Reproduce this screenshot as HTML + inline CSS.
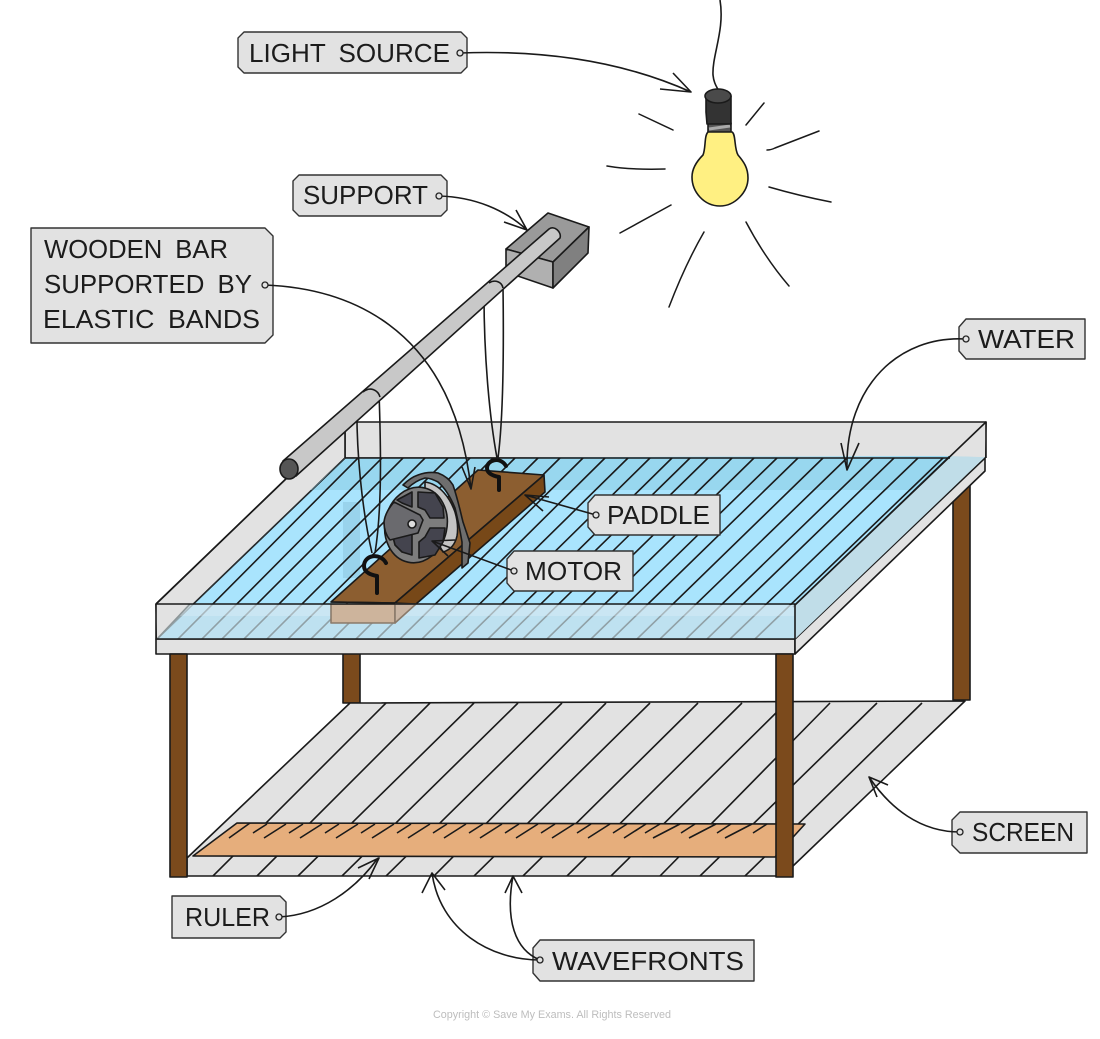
<!DOCTYPE html>
<html><head><meta charset="utf-8"><style>html,body{margin:0;padding:0;background:#fff}svg{display:block}
text{font-family:"Liberation Sans",sans-serif;font-size:26px;fill:#1c1c1c;word-spacing:6px}</style></head><body>
<svg width="1100" height="1039" viewBox="0 0 1100 1039" xmlns="http://www.w3.org/2000/svg">
<defs>
<clipPath id="sc"><polygon points="350,703 965,701 793,868 776,876 187,876 187,858"/></clipPath>
<clipPath id="wa"><polygon points="345,458 950,456 795,605 795,639 157,639"/></clipPath>
</defs>
<g stroke="#1a1a1a" stroke-width="1.6" stroke-linejoin="round">
<!-- back legs -->
<rect x="953" y="470" width="17" height="230" fill="#7b4a1c"/>
<rect x="343" y="650" width="17" height="53" fill="#7b4a1c"/>
<!-- screen -->
<polygon points="350,703 965,701 793,866 776,876 187,876 187,858" fill="#e2e2e2"/>
<g clip-path="url(#sc)" fill="none">
<path d="M386 703L213 876M430 703L257 876M474 703L298 876M518 703L342 876M562 703L382 880M606 703L430 880M650 703L470 880M698 703L523 876M742 703L567 876M786 703L611 876M830 703L660 876M877 703L700 876M922 703L745 876"/>
</g>
<!-- ruler -->
<polygon points="237,823 805,824 775,857 193,856" fill="#e6ae7c"/>
<path d="M229 838L250 823M253 833L267 824M264 838L286 824M289 833L303 824M300 838L322 824M325 833L339 824M336 838L358 824M361 833L375 824M372 838L394 824M397 833L411 824M408 838L430 824M433 833L447 824M444 838L466 824M469 833L483 824M480 838L502 824M505 833L519 824M516 838L538 824M541 833L555 824M552 838L574 824M577 833L591 824M588 838L610 824M613 833L627 824M624 838L646 824M645 833L660 824M653 838L680 824M681 833L695 824M689 838L716 824M717 833L731 824M725 838L752 824M753 833L767 824" fill="none"/>
<!-- tank back and left wall, slab -->
<polygon points="345,422 986,422 985,458 345,458" fill="#e2e2e2"/>
<polygon points="156,604 345,422 345,458 157,639" fill="#e2e2e2"/>
<polygon points="156,639 795,639 795,654 156,654" fill="#e2e2e2"/>
<polygon points="795,639 985,458 985,471 795,654" fill="#e2e2e2"/>
<!-- water -->
<polygon points="345,458 950,456 795,639 157,639" fill="#a9e4fd" stroke="none"/>
<polygon points="345,458 950,456 918,490 311,490" fill="#98d7ef" stroke="none"/>
<rect x="343" y="502" width="17" height="76" fill="#86bfd6" fill-opacity=".45" stroke="none"/>
<g clip-path="url(#wa)" fill="none">
<path d="M345 458L157 639M358 458L178 639M382 458L202 639M403 458L222 639M425 458L244 639M448 458L267 639M470 458L288 639M493 458L311 639M515 458L333 639M538 458L356 639M560 458L377 639M583 458L400 639M605 458L422 639M628 458L444 639M650 458L466 639M672 458L488 639M690 458L505 639M708 458L523 639M732 458L547 639M754 458L569 639M777 458L591 639M798 458L612 639M823 458L637 639M847 458L660 639M873 458L686 639M894 458L707 639M918 458L730 639M943 458L755 639M950 456L793 607"/>
</g>
<!-- elastic back -->
<path d="M484 295C484 360 490 420 497 458M503 287C504 360 503 420 498 458" fill="none"/>
<path d="M357 400C356 450 362 510 372 553M379 392C381 450 382 510 375 553" fill="none"/>
<!-- wood -->
<polygon points="331,602 478,470 544,475 395,603" fill="#8c5e30"/>
<polygon points="395,603 544,475 545,492 416,604" fill="#774818"/>
<!-- motor -->
<path d="M403 485C408 480 412 477 418 475C426 472 432 472 438 473C446 476 450 480 453 485C458 500 460 510 463 522L470 543L468 563L462 568L462 542C460 530 458 520 455 508C450 496 445 488 438 482C434 480 430 478 425 478C418 480 412 484 408 488Z" fill="#6e6e6e"/>
<path d="M425 482C440 484 450 498 455 512C458 522 458 530 457 536C455 545 450 550 443 552L425 520Z" fill="#c4c4c4"/>
<ellipse cx="416" cy="525" rx="31" ry="38" transform="rotate(12 416 525)" fill="#7d7d7d"/>
<polygon points="397,500 412,492 412,507 402,503" fill="#44444e"/>
<polygon points="418,492 435,493 443,507 444,518 430,518 425,510 418,507" fill="#44444e"/>
<polygon points="430,528 445,528 443,542 435,555 419,558 419,542 425,537" fill="#44444e"/>
<polygon points="393,537 412,533 412,555 402,552 395,545" fill="#44444e"/>
<path d="M394 502L420 515L423 520L418 533L390 540C385 534 384 528 384 522C385 514 389 508 394 502Z" fill="#6a6a6e"/>
<circle cx="412" cy="524" r="4" fill="#ddd"/>
<!-- hooks -->
<g fill="none" stroke="#111" stroke-width="4" stroke-linecap="round">
<path d="M386 563C380 552 364 555 364 566C364 573 372 575 377 576L377 593"/>
<path d="M506 466C500 456 487 460 487 468C487 474 494 476 499 477L499 490"/>
</g>
<!-- glass front -->
<polygon points="157,639 190,604 795,605 795,639" fill="#c8e0e9" fill-opacity=".68" stroke="none"/>
<rect x="179" y="605" width="616" height="11" fill="#eaf6fb" fill-opacity=".28" stroke="none"/>
<polygon points="156,604 190,604 157,639" fill="#e2e2e2" stroke="none"/>
<polygon points="795,605 950,456 985,457 795,639" fill="#c0dde8" stroke="none"/>
<polygon points="950,456 986,422 985,457" fill="#e2e2e2" stroke="none"/>
<path d="M190 604L157 639" stroke="#8d9698" fill="none"/>
<polygon points="331,604 395,604 395,623 331,623" fill="#cdb49c" stroke="#8a7a6a"/>
<polygon points="395,604 416,604 395,623" fill="#c9b5a3" stroke="#8a7a6a"/>
<path d="M331 602L395 603" fill="none"/>
<path d="M156 604H795V639M156 604V639H795M795 605L986 422V458" fill="none"/>
<path d="M345 458H950" fill="none"/>
<path d="M345 422L156 604" fill="none"/>
<!-- front legs -->
<rect x="170" y="654" width="17" height="223" fill="#7b4a1c"/>
<rect x="776" y="654" width="17" height="223" fill="#7b4a1c"/>
<!-- support block -->
<polygon points="506,249 548,213 589,227 553,262" fill="#9a9a9a"/>
<polygon points="506,249 553,262 553,288 506,272" fill="#b0b0b0"/>
<polygon points="553,262 589,227 588,253 553,288" fill="#808080"/>
<!-- bar -->
<path d="M283 461L549 229C554 225 562 232 560 238L296 476Z" fill="#c8c8c8"/>
<ellipse cx="289" cy="469" rx="9" ry="10" fill="#555"/>
<path d="M363 392C370 386 378 390 380 397M489 283C495 279 502 282 503 288" fill="none"/>
<!-- bulb -->
<path d="M720 0C725 30 712 55 713 75C714 85 718 88 720 94" fill="none"/>
<rect x="708" y="123" width="23" height="11" fill="#555"/>
<path d="M709 129L730 126" stroke="#aaa" stroke-width="3" fill="none"/>
<path d="M706 96V112L707 124H731V96Z" fill="#333"/>
<ellipse cx="718" cy="96" rx="13" ry="7" fill="#4a4a4a"/>
<path d="M708 132H732C736 134 734 148 738 155C744 162 748 168 748 178C748 192 735 206 720 206C704 206 692 192 692 177C692 168 698 160 703 155C706 148 704 136 708 132Z" fill="#fff082"/>
<g fill="none" stroke="#1a1a1a" stroke-width="1.5" stroke-linecap="round">
<path d="M764 103L746 125M819 131L775 148Q771 150 767 150M769 187Q800 196 831 202M746 222Q765 258 789 286M704 232Q685 265 669 307M671 205L620 233M665 169Q630 170 607 166M673 130L639 114"/>
</g>
<!-- labels -->
<g fill="#e2e2e2" stroke="#333" stroke-width="1.4">
<polygon points="238,38 244,32 461,32 467,38 467,67 461,73 244,73 238,67"/>
<polygon points="293,181 299,175 441,175 447,181 447,210 441,216 299,216 293,210"/>
<polygon points="31,228 265,228 273,236 273,335 265,343 31,343"/>
<polygon points="959,327 966,319 1085,319 1085,359 966,359 959,351"/>
<polygon points="588,503 595,495 720,495 720,535 595,535 588,527"/>
<polygon points="507,559 514,551 633,551 633,591 514,591 507,583"/>
<polygon points="952,820 960,812 1087,812 1087,853 960,853 952,845"/>
<polygon points="172,896 280,896 286,902 286,932 280,938 172,938"/>
<polygon points="533,948 540,940 754,940 754,981 540,981 533,973"/>
</g>
<!-- arrows -->
<g fill="none" stroke="#1a1a1a" stroke-width="1.6">
<path d="M460 53C540 50 620 60 691 92M673 73L691 92L660 89"/>
<path d="M439 196C475 197 505 210 527 230M516 210L527 230L504 222"/>
<path d="M265 285C340 288 452 320 471 489M462 467L471 489L475 467"/>
<path d="M966 339C900 335 845 385 847 470M841 443L847 470L859 443"/>
<path d="M596 515L525 495M549 497L525 495L543 511"/>
<path d="M514 571L432 541M455 540L432 541L448 556"/>
<path d="M960 832C920 832 890 808 869 777M888 785L869 777L877 797"/>
<path d="M279 917C320 915 355 890 378 858M358 868L379 858L369 879"/>
<path d="M540 960C490 960 440 930 432 873M422 893L432 873L445 890"/>
<path d="M540 960C515 950 505 920 513 876M505 893L513 876L522 893"/>
</g>
<g fill="#e2e2e2" stroke="#222" stroke-width="1.3">
<circle cx="460" cy="53" r="3"/><circle cx="439" cy="196" r="3"/><circle cx="265" cy="285" r="3"/><circle cx="966" cy="339" r="3"/><circle cx="596" cy="515" r="3"/><circle cx="514" cy="571" r="3"/><circle cx="960" cy="832" r="3"/><circle cx="279" cy="917" r="3"/><circle cx="540" cy="960" r="3"/>
</g>
</g>
<text x="249" y="62" textLength="201" lengthAdjust="spacingAndGlyphs">LIGHT SOURCE</text>
<text x="303" y="204" textLength="125" lengthAdjust="spacingAndGlyphs">SUPPORT</text>
<text x="44" y="258" textLength="184" lengthAdjust="spacingAndGlyphs">WOODEN BAR</text>
<text x="44" y="293" textLength="208" lengthAdjust="spacingAndGlyphs">SUPPORTED BY</text>
<text x="43" y="328" textLength="217" lengthAdjust="spacingAndGlyphs">ELASTIC BANDS</text>
<text x="978" y="348" textLength="97" lengthAdjust="spacingAndGlyphs">WATER</text>
<text x="607" y="524" textLength="103" lengthAdjust="spacingAndGlyphs">PADDLE</text>
<text x="525" y="580" textLength="97" lengthAdjust="spacingAndGlyphs">MOTOR</text>
<text x="972" y="841" textLength="102" lengthAdjust="spacingAndGlyphs">SCREEN</text>
<text x="185" y="926" textLength="85" lengthAdjust="spacingAndGlyphs">RULER</text>
<text x="552" y="970" textLength="192" lengthAdjust="spacingAndGlyphs">WAVEFRONTS</text>
<text x="433" y="1018" textLength="238" lengthAdjust="spacingAndGlyphs" style="font-size:11px;fill:#bdbdbd;word-spacing:0">Copyright © Save My Exams. All Rights Reserved</text>
</svg>
</body></html>
